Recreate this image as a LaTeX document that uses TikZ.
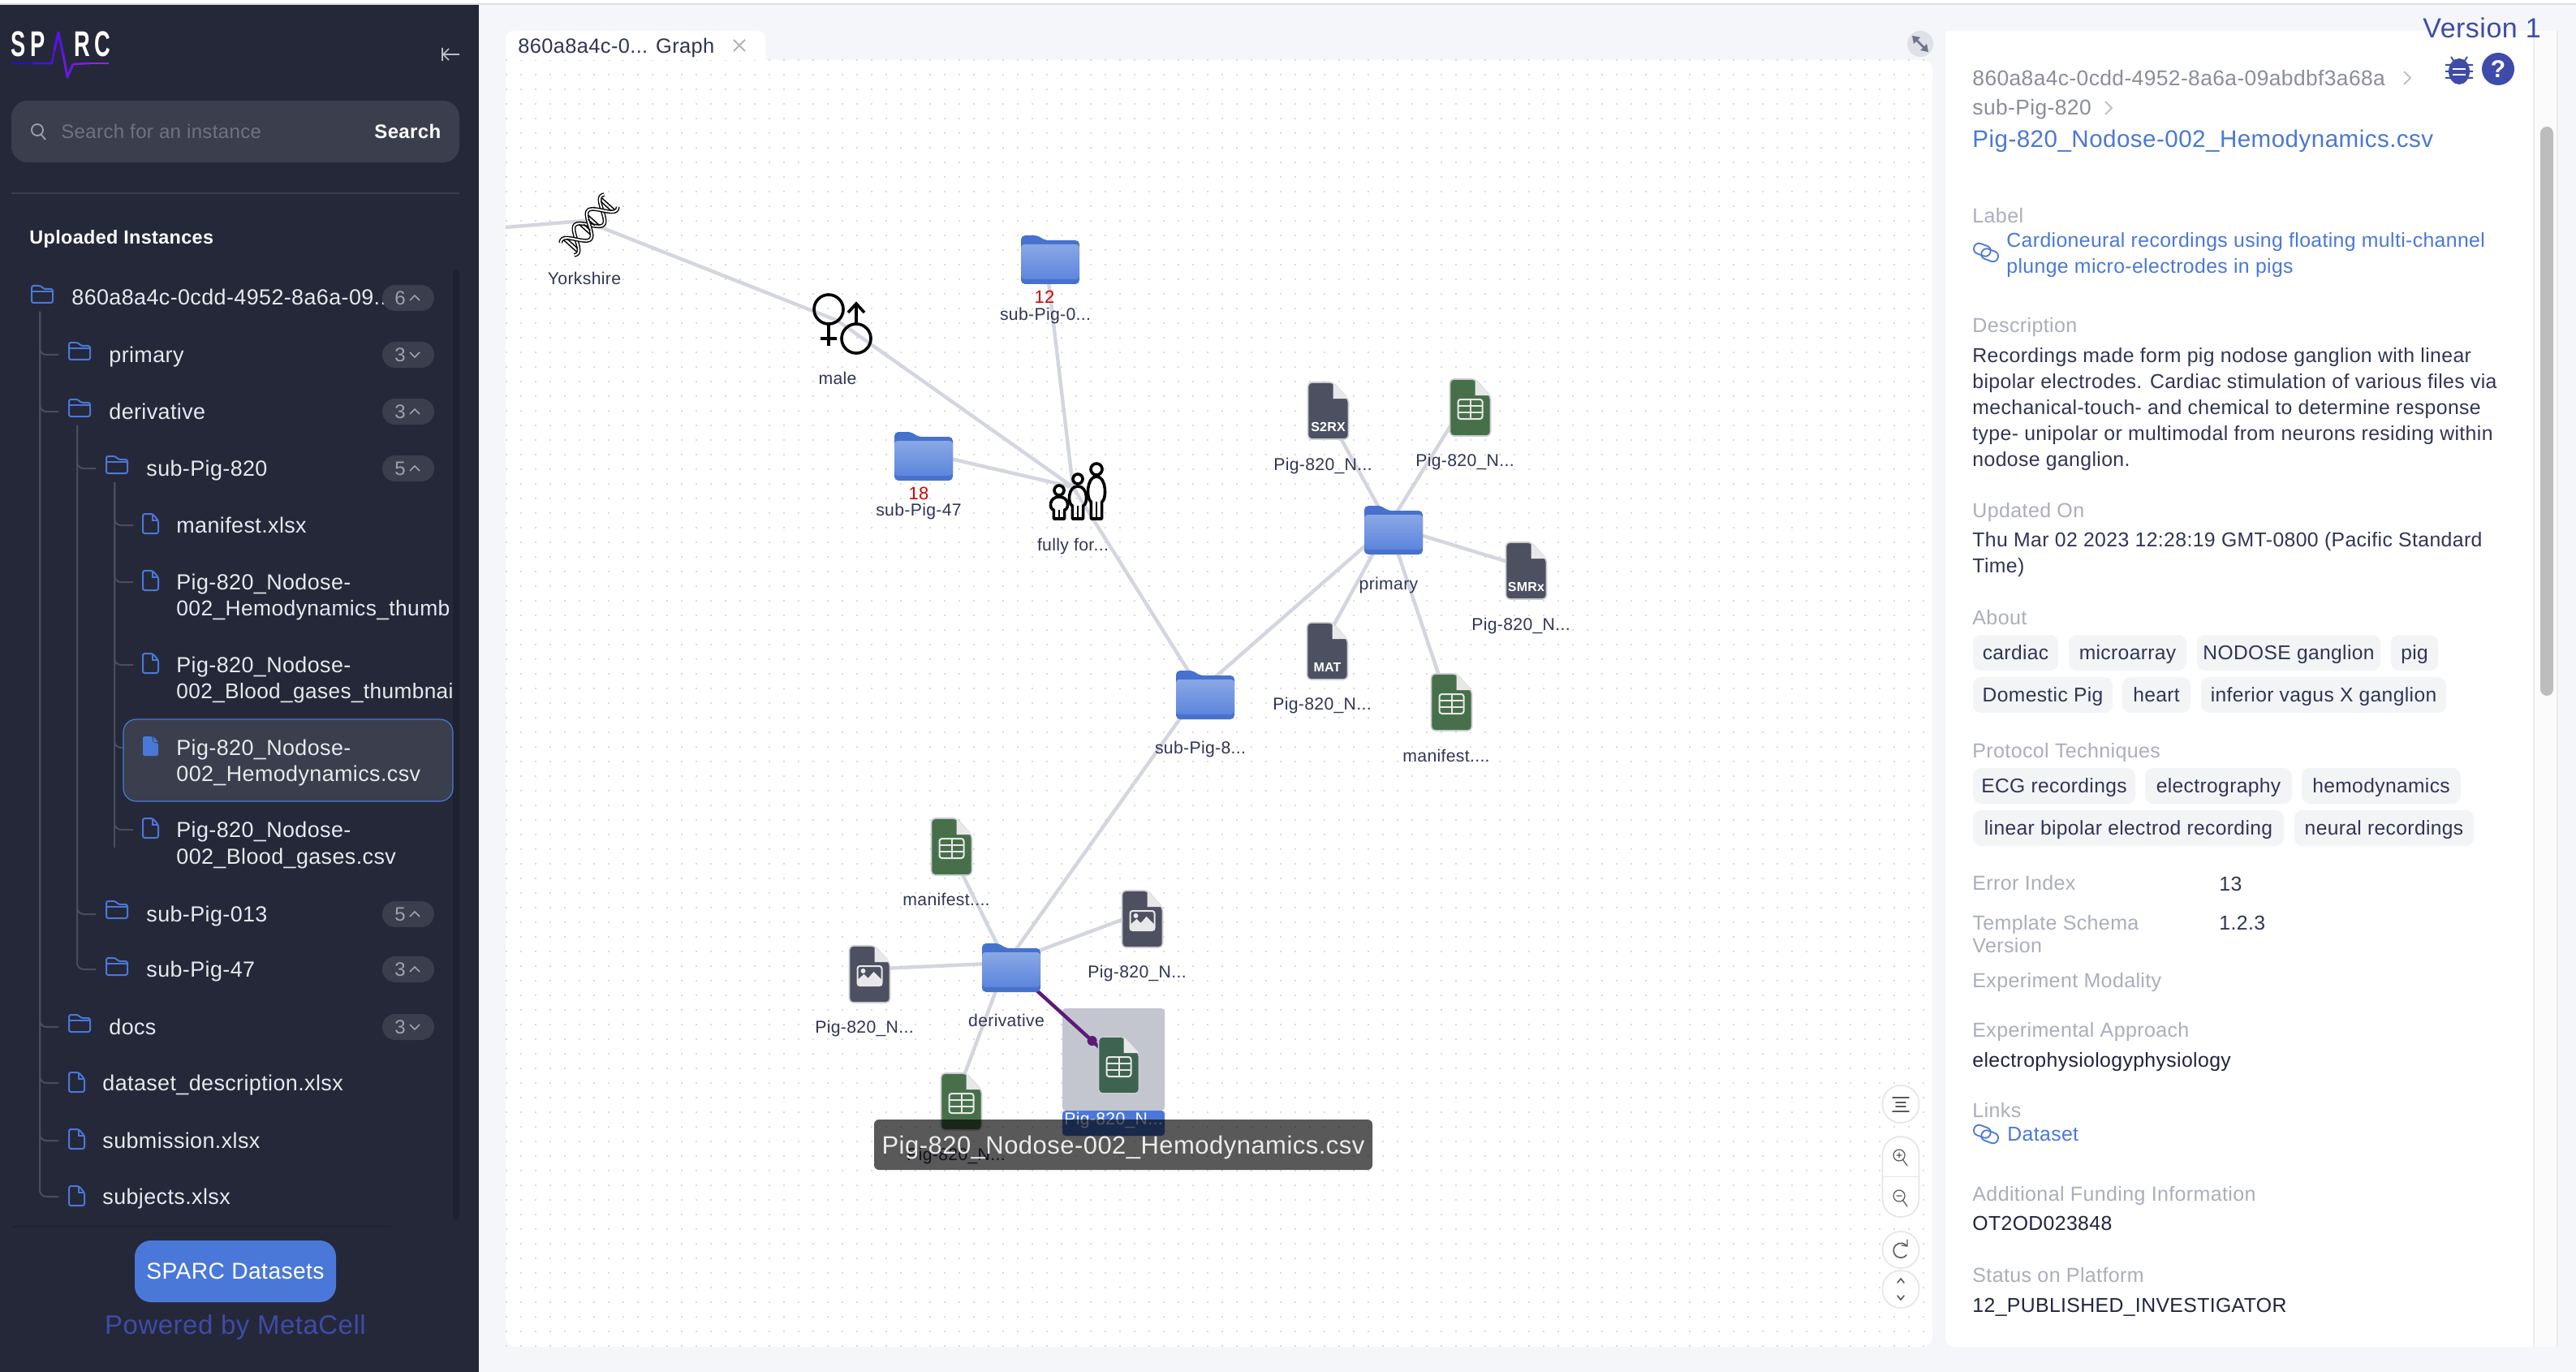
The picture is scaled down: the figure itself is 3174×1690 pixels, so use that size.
\documentclass[tikz,border=0pt]{standalone}
\usepackage{fontspec}
\usepackage{graphicx}
\setmainfont{Liberation Sans}[LetterSpace=1.5]
\usetikzlibrary{calc}
\definecolor{side}{HTML}{252839}
\definecolor{sidebox}{HTML}{3B3E4D}
\definecolor{sidedark}{HTML}{1E2130}
\definecolor{treeln}{HTML}{4A4D5C}
\definecolor{sidetxt}{HTML}{E8E9EC}
\definecolor{sidegray}{HTML}{9FA1AB}
\definecolor{holder}{HTML}{70737F}
\definecolor{bluea}{HTML}{4A78D8}
\definecolor{indigo}{HTML}{3F4BA8}
\definecolor{pagebg}{HTML}{F5F6FA}
\definecolor{ink}{HTML}{2F3655}
\definecolor{inkd}{HTML}{1F2540}
\definecolor{headgray}{HTML}{ABAEBC}
\definecolor{crumb}{HTML}{8A8D9A}
\definecolor{chipc}{HTML}{F3F4F6}
\definecolor{edgec}{HTML}{D3D6DF}
\definecolor{dotc}{HTML}{D9DBE1}
\definecolor{docdark}{HTML}{4D5060}
\definecolor{docgreen}{HTML}{47704A}
\definecolor{docsel}{HTML}{3E6350}
\definecolor{docedge}{HTML}{C9CBCF}
\definecolor{foldc}{HTML}{E8E8E8}
\definecolor{purp}{HTML}{5C1A78}
\definecolor{hilite}{HTML}{BFC2CC}
\definecolor{expbg}{HTML}{DFE1E8}
\definecolor{expfg}{HTML}{6F7488}
\newcommand\fz[1]{\fontsize{#1}{#1}\selectfont}
\tikzset{
  tx/.style={anchor=west,inner sep=0pt,font=\fz{#1},text height=0.72*#1 pt,text depth=0pt},
  cx/.style={anchor=center,inner sep=0pt,font=\fz{#1},text height=0.72*#1 pt,text depth=0pt},
  treetext/.style={tx=13.45,text=sidetxt},
  gnode/.style={inner sep=0pt,minimum size=0pt,outer sep=0pt},
  glabel/.style={cx=10.6,text=ink},
  edge/.style={draw=edgec,line width=2.2pt},
  treeline/.style={draw=treeln,line width=1pt,rounded corners=4pt},
  chip/.style={rectangle,rounded corners=5pt,fill=chipc,cx=12.3,text=ink,minimum height=22pt},
  head/.style={tx=12.5,text=headgray},
  body/.style={tx=12.4,text=ink},
  link/.style={tx=12.4,text=bluea},
  ctrl/.style={draw=#1,line width=.8pt,line cap=round},
  ctrlbtn/.style={rectangle,fill=white,draw=black!10,line width=.8pt,rounded corners=11pt,inner sep=0pt},
  flout/.style={draw=bluea,line width=1pt,rounded corners=1.2pt},
}
\newcommand\tfolder[2]{%
  \draw[flout] (#1,#2+21) -- (#1,#2) -- (#1+11,#2) -- (#1+15,#2+4) -- (#1+26,#2+4) -- (#1+26,#2+21) -- cycle;
  \draw[draw=bluea,line width=1pt] (#1,#2+7) -- (#1+26,#2+7);
}
\newcommand\tfile[2]{%
  \draw[flout] (#1,#2+24) -- (#1,#2) -- (#1+12,#2) -- (#1+19,#2+8) -- (#1+19,#2+24) -- cycle;
  \draw[draw=bluea,line width=1pt] (#1+12,#2) -- (#1+12,#2+8) -- (#1+19,#2+8);
}
\newcommand\badge[4]{%
  \node[rectangle,fill=sidebox,rounded corners=8pt,minimum width=32pt,minimum height=16pt,inner sep=0pt] (#1) at (503,#2) {};
  \node[cx=12,text=sidegray] (#1n) at (493,#2) {#3};
  \draw[sidegray,line width=.8pt] (505,{#2+3*#4}) -- (511,{#2-3*#4}) -- (517,{#2+3*#4});
}
\newcommand\branch[4]{\coordinate (#1) at (#3,#4); \draw[treeline] (#2) |- (#1);}
\newcommand\docgrid{%
  \draw[foldc,line width=1pt,rounded corners=1.5pt] (-15,-10) rectangle (15,14);
  \draw[foldc,line width=1pt] (-15,-2) -- (15,-2) (-15,6) -- (15,6) (0,-10) -- (0,14);
}
\newcommand\docimg{%
  \draw[foldc,line width=1pt,rounded corners=1.5pt] (-15,-10) rectangle (15,14);
  \fill[foldc] (-15,14) -- (-15,7) -- (-7,0) -- (-2,5) -- (5,-3) -- (15,7) -- (15,14) -- cycle;
  \fill[foldc] (-8,-4) circle (1.5pt);
}
\newcommand\doctxt[1]{\node[cx=8,text=white,font=\fz{8}\bfseries] at (0,20) {#1};}
\newcommand\docicon[3]{%
  \begin{scope}[shift={($(#1)+(6.5,6)$)}]
    \path[fill=#2,draw=docedge,line width=.8pt,rounded corners=2.5pt] (-25,-35) -- (6,-35) -- (25,-14) -- (25,35) -- (-25,35) -- cycle;
    \fill[foldc] (6,-35) -- (6,-15) [rounded corners=.5pt] -- (25,-15) -- cycle;
    #3
  \end{scope}}
\newcommand\foldericon[1]{%
  \begin{scope}[shift={($(#1)+(6,6)$)}]
    \fill[fill=bluea!95!black,rounded corners=2.5pt] (-36,30) -- (-36,-30) -- (-15,-30) -- (-7,-24) -- (36,-24) -- (36,30) -- cycle;
    \shade[top color=bluea!65!white,bottom color=bluea!90!white,rounded corners=2pt] (-36,-19) rectangle (36,24);
  \end{scope}}
\newcommand\person[6]{% cx headY headR top bottom halfwidth
  \draw[black,line width=1.8pt] (#1,#2) circle ({#3*0.5pt});
  \draw[black,line width=1.8pt,line join=round] (#1-#6*.6,#5) -- (#1-#6*.6,{#4+(#5-#4)*.6}) .. controls (#1-#6*1.15,{#4+(#5-#4)*.55}) and (#1-#6*1.15,#4) .. (#1,#4) .. controls (#1+#6*1.15,#4) and (#1+#6*1.15,{#4+(#5-#4)*.55}) .. (#1+#6*.6,{#4+(#5-#4)*.6}) -- (#1+#6*.6,#5) -- cycle;
  \draw[black,line width=1.2pt] (#1,{#4+(#5-#4)*.6}) -- (#1,#5);
}
\newcommand\linkicon[2]{%
  \begin{scope}[shift={(#1,#2)},rotate=-20]
    \draw[bluea,line width=.9pt,rounded corners=3pt] (-16,-8) rectangle (5,5);
    \draw[bluea,line width=.9pt,rounded corners=3pt] (-5,-5) rectangle (16,8);
  \end{scope}}
\begin{document}
\begin{tikzpicture}[x=.5pt,y=-.5pt]
\useasboundingbox (0,0) rectangle (3174,1690);
\fill[white] (0,0) rectangle (3174,5);
\fill[black!12] (0,4) rectangle (3174,6);
\fill[pagebg] (590,6) rectangle (3174,1690);
\fill[side] (0,6) rectangle (590,1690);
%%% sidebar
\node[anchor=base west,inner sep=0pt,text=white,font=\fz{22}\bfseries] (logoa) at (13,70) {\scalebox{.62}[1]{S\kern.22em P}};
\node[anchor=base west,inner sep=0pt,text=white,font=\fz{22}\bfseries] (logob) at (91,70) {\scalebox{.62}[1]{R\kern.2em C}};
\draw[line width=1.3pt,color={rgb,255:red,40;green,16;blue,200}] (14,78) -- (40,78);
\draw[line width=1.3pt,color={rgb,255:red,70;green,20;blue,215},line join=round] (40,78) -- (64,78) -- (67,62);
\draw[line width=1.6pt,color={rgb,255:red,85;green,22;blue,220},line join=round] (67,62) -- (72,40) -- (78,68);
\draw[line width=1.5pt,color={rgb,255:red,105;green,26;blue,220},line join=round] (78,68) -- (83,95) -- (90,79);
\draw[line width=1.3pt,color={rgb,255:red,125;green,30;blue,220}] (90,79) -- (110,78);
\draw[line width=1.3pt,color={rgb,255:red,150;green,34;blue,220}] (110,78) -- (134,78);
\draw[sidegray!70!white,line width=.8pt] (545,59) -- (545,75) (566,67) -- (546,67) (553,60) -- (546,67) -- (553,74);
\node[rectangle,fill=sidebox,rounded corners=10pt,minimum width=276pt,minimum height=38pt,inner sep=0pt] (searchbox) at (290,162) {};
\draw[sidegray,line width=.9pt] (46,160) circle (3.5pt) (51,166) -- (56,172);
\node[tx=12,text=holder] (ph) at (75,162) {Search for an instance};
\node[tx=12,text=white,font=\fz{12}\bfseries] (searchbtn) at (461,162) {Search};
\draw[sidebox,line width=.8pt] (14,238) -- (566,238);
\node[tx=11.7,text=white,font=\fz{11.7}\bfseries] (upl) at (36,292) {Uploaded Instances};
\fill[sidedark,rounded corners=2pt] (558,332) rectangle (566,1503);
\draw[sidedark,line width=.8pt] (14,1511) -- (482,1511);
% tree lines
\coordinate (trunkA) at (49,384);
\coordinate (trunkB) at (95,524);
\coordinate (trunkC) at (141,594);
\coordinate (trunkCend) at (141,1044);
\branch{ba1}{trunkA}{72}{437}
\branch{ba2}{trunkA}{72}{507}
\branch{ba3}{trunkA}{72}{1265}
\branch{ba4}{trunkA}{72}{1334}
\branch{ba5}{trunkA}{72}{1405}
\branch{ba6}{trunkA}{72}{1474}
\branch{bb1}{trunkB}{118}{577}
\branch{bb2}{trunkB}{118}{1126}
\branch{bb3}{trunkB}{118}{1194}
\branch{bc1}{trunkC}{164}{647}
\branch{bc2}{trunkC}{164}{717}
\branch{bc3}{trunkC}{164}{819}
\branch{bc4}{trunkC}{164}{921}
\branch{bc5}{trunkC}{164}{1022}
\draw[treeline] (trunkC) -- (trunkCend);
\node[rectangle,fill=sidebox,draw=bluea,line width=.6pt,rounded corners=8pt,minimum width=203pt,minimum height=50.5pt,inner sep=0pt] (selbox) at (355,936.5) {};
\tfolder{39}{352}
\tfolder{85}{422} \tfolder{85}{492}
\tfolder{131}{562} \tfolder{131}{1110} \tfolder{131}{1180}
\tfolder{85}{1250}
\tfile{176}{633} \tfile{176}{703} \tfile{176}{805} \tfile{176}{1008}
\tfile{85}{1321} \tfile{85}{1391} \tfile{85}{1461}
\fill[bluea,rounded corners=1.2pt] (176,931) -- (176,907) -- (188,907) -- (188,915) -- (195,915) -- (195,931) -- cycle;
\fill[bluea] (189,907) -- (195,914) -- (189,914) -- cycle;
\node[treetext] (t1) at (88,366) {860a8a4c-0cdd-4952-8a6a-09...};
\node[treetext] (t2) at (134,437) {primary};
\node[treetext] (t3) at (134,507) {derivative};
\node[treetext] (t4) at (180,577) {sub-Pig-820};
\node[treetext] (t5) at (217,647) {manifest.xlsx};
\node[treetext] (t6a) at (217,717) {Pig-820\_Nodose-};
\node[treetext,tx=13.2] (t6b) at (217,749) {002\_Hemodynamics\_thumb};
\node[treetext] (t7a) at (217,819) {Pig-820\_Nodose-};
\node[treetext,tx=13.1] (t7b) at (217,851) {002\_Blood\_gases\_thumbnai};
\node[treetext] (t8a) at (217,921) {Pig-820\_Nodose-};
\node[treetext] (t8b) at (217,953) {002\_Hemodynamics.csv};
\node[treetext] (t9a) at (217,1022) {Pig-820\_Nodose-};
\node[treetext] (t9b) at (217,1055) {002\_Blood\_gases.csv};
\node[treetext] (t10) at (180,1126) {sub-Pig-013};
\node[treetext] (t11) at (180,1194) {sub-Pig-47};
\node[treetext] (t12) at (134,1265) {docs};
\node[treetext] (t13) at (126,1334) {dataset\_description.xlsx};
\node[treetext] (t14) at (126,1405) {submission.xlsx};
\node[treetext] (t15) at (126,1474) {subjects.xlsx};
\badge{b1}{367}{6}{1}
\badge{b2}{437}{3}{-1}
\badge{b3}{507}{3}{1}
\badge{b4}{577}{5}{1}
\badge{b5}{1126}{5}{1}
\badge{b6}{1194}{3}{1}
\badge{b7}{1265}{3}{-1}
\node[rectangle,fill=bluea,rounded corners=10pt,minimum width=124pt,minimum height=38pt,inner sep=0pt,text=white,font=\fz{14.1}] (sparcbtn) at (290,1566) {SPARC Datasets};
\node[cx=16.5,text=indigo] (powered) at (290,1632) {Powered by MetaCell};
%%% graph panel
\fill[white,rounded corners=6pt] (623,74) rectangle (2381,1659);
\fill[white] (623,74) rectangle (900,100);
\fill[white,rounded corners=5pt] (623,38) -- (943,38) -- (943,90) -- (623,90) -- cycle;
\foreach \yy in {74,92,...,1658} {
  \draw[dotc,line width=1pt,dash pattern=on 1pt off 8pt] (623,\yy) -- (2378,\yy);
}
\fill[white,rounded corners=5pt] (623,38) -- (943,38) -- (943,74) -- (623,74) -- cycle;
\node[tx=12.7,text=ink] (tabtxt) at (638,56) {860a8a4c-0... Graph};
\draw[black!30,line width=.9pt] (904,49) -- (918,63) (918,49) -- (904,63);
\fill[expbg] (2366,54) circle (8pt);
\draw[expfg,line width=1.3pt] (2359,47) -- (2373,61);
\fill[expfg] (2356,44) -- (2366,46) -- (2358,54) -- cycle;
\fill[expfg] (2376,64) -- (2366,62) -- (2374,54) -- cycle;
% graph nodes
\coordinate (offleft) at (623,280);
\node[gnode] (york) at (720,272) {};
\node[gnode] (male) at (1032,395) {};
\node[gnode] (sub0) at (1288,314) {};
\node[gnode] (sub47) at (1132,556) {};
\node[gnode] (fam) at (1322,600) {};
\node[gnode] (sub8) at (1479,850) {};
\node[gnode] (primary) at (1711,647) {};
\node[gnode] (s2rx) at (1630,500) {};
\node[gnode] (xl1) at (1805,496) {};
\node[gnode] (smrx) at (1874,697) {};
\node[gnode] (mat) at (1629,796) {};
\node[gnode] (man1) at (1782,859) {};
\node[gnode] (deriv) at (1240,1186) {};
\node[gnode] (man2) at (1166,1037) {};
\node[gnode] (imgl) at (1065,1194) {};
\node[gnode] (imgr) at (1401,1126) {};
\node[gnode] (xl2) at (1178,1351) {};
\node[gnode] (seldoc) at (1372,1306) {};
\fill[hilite,opacity=.93,rounded corners=2pt] (1309,1242) rectangle (1435,1368);
\path[fill=bluea,rounded corners=2pt] (1309,1368) rectangle (1435,1399);
% edges
\draw[edge] (offleft) -- (york);
\draw[edge] (york) -- (male);
\draw[edge] (male) -- (fam);
\draw[edge] (sub0) -- (fam);
\draw[edge] (sub47) -- (fam);
\draw[edge] (fam) -- (sub8);
\draw[edge] (sub8) -- (primary);
\draw[edge] (primary) -- (s2rx);
\draw[edge] (primary) -- (xl1);
\draw[edge] (primary) -- (smrx);
\draw[edge] (primary) -- (mat);
\draw[edge] (primary) -- (man1);
\draw[edge] (sub8) -- (deriv);
\draw[edge] (deriv) -- (man2);
\draw[edge] (deriv) -- (imgl);
\draw[edge] (deriv) -- (imgr);
\draw[edge] (deriv) -- (xl2);
\draw[purp,line width=2.2pt] (deriv) -- (seldoc) node[pos=.8,circle,fill=purp,inner sep=0pt,minimum size=6pt] (seldot) {};
% icons
\foldericon{sub0} \foldericon{sub47} \foldericon{sub8} \foldericon{primary} \foldericon{deriv}
\docicon{s2rx}{docdark}{\doctxt{S2RX}}
\docicon{xl1}{docgreen}{\docgrid}
\docicon{smrx}{docdark}{\doctxt{SMRx}}
\docicon{mat}{docdark}{\doctxt{MAT}}
\docicon{man1}{docgreen}{\docgrid}
\docicon{man2}{docgreen}{\docgrid}
\docicon{imgl}{docdark}{\docimg}
\docicon{imgr}{docdark}{\docimg}
\docicon{xl2}{docgreen}{\docgrid}
\docicon{seldoc}{docsel}{\docgrid}
\draw[black,line width=1.8pt] (1021,381) circle (9pt) (1021,399) -- (1021,426) (1011,417) -- (1031,417);
\draw[black,line width=1.8pt] (1055,417) circle (9pt) (1055,399) -- (1055,376) (1045,385) -- (1055,374) -- (1065,385);
\person{1351}{578}{7}{587}{639}{11}
\person{1328}{590}{6}{599}{639}{11}
\person{1305}{604}{6}{612}{639}{11}
\begin{scope}[shift={(726,277)},rotate=48]
  \draw[black,line width=2.4pt,domain=-40:40,samples=50] plot (\x,{13*sin(\x*7.5)});
  \draw[white,line width=1pt,domain=-40:40,samples=50] plot (\x,{13*sin(\x*7.5)});
  \draw[black,line width=2.4pt,domain=-40:40,samples=50] plot (\x,{-13*sin(\x*7.5)});
  \draw[white,line width=1pt,domain=-40:40,samples=50] plot (\x,{-13*sin(\x*7.5)});
  \foreach \q in {-35,-31,-8,-4,0,4,8,31,35} {
    \draw[black,line width=.7pt] (\q,{11*sin(\q*7.5)}) -- (\q,{-11*sin(\q*7.5)});
  }
\end{scope}
% graph labels
\node[glabel] (lyork) at (720,343) {Yorkshire};
\node[glabel] (lmale) at (1032,466) {male};
\node[cx=11,text=red!85!black] (n12) at (1287,366) {12};
\node[glabel] (lsub0) at (1288,387) {sub-Pig-0...};
\node[cx=11,text=red!85!black] (n18) at (1132,608) {18};
\node[glabel] (lsub47) at (1132,628) {sub-Pig-47};
\node[glabel] (lfam) at (1322,671) {fully for...};
\node[glabel] (lsub8) at (1479,921) {sub-Pig-8...};
\node[glabel] (lprim) at (1711,719) {primary};
\node[glabel] (ls2) at (1630,572) {Pig-820\_N...};
\node[glabel] (lxl1) at (1805,567) {Pig-820\_N...};
\node[glabel] (lsm) at (1874,769) {Pig-820\_N...};
\node[glabel] (lmat) at (1629,867) {Pig-820\_N...};
\node[glabel] (lman1) at (1782,931) {manifest....};
\node[glabel] (lder) at (1240,1257) {derivative};
\node[glabel] (lman2) at (1166,1108) {manifest....};
\node[glabel] (limgl) at (1065,1265) {Pig-820\_N...};
\node[glabel] (limgr) at (1401,1197) {Pig-820\_N...};
\node[glabel] (lxl2) at (1178,1422) {Pig-820\_N...};
\node[glabel,text=white] (lsel) at (1372,1378) {Pig-820\_N...};
% tooltip
\fill[black,opacity=.65,rounded corners=3pt] (1077,1379) rectangle (1691,1441);
\node[cx=15.5,text=white!92!black] (tooltip) at (1384,1410) {Pig-820\_Nodose-002\_Hemodynamics.csv};
% controls
\node[ctrlbtn,minimum width=22.5pt,minimum height=23pt] (c1) at (2342,1360) {};
\node[ctrlbtn,minimum width=22.5pt,minimum height=49.5pt] (c2) at (2342,1449.5) {};
\node[ctrlbtn,minimum width=22.5pt,minimum height=22.5pt] (c3) at (2342,1539.5) {};
\node[ctrlbtn,minimum width=22.5pt,minimum height=23pt] (c4) at (2342,1588) {};
\draw[black!10,line width=.8pt] (2320,1449.5) -- (2365,1449.5);
\draw[ctrl=black!65] (2332,1352) -- (2352,1352) (2336,1358) -- (2348,1358) (2336,1363) -- (2348,1363) (2332,1369) -- (2352,1369);
\draw[ctrl=black!65,line width=.6pt] (2340,1423) circle (3.5pt) (2345,1429) -- (2350,1436) (2337,1423) -- (2343,1423) (2340,1420) -- (2340,1426);
\draw[ctrl=black!65,line width=.6pt] (2340,1473) circle (3.5pt) (2345,1479) -- (2350,1486) (2337,1473) -- (2343,1473);
\draw[ctrl=black!65] (2349,1546) arc (-40:-320:4.5pt);
\draw[ctrl=black!65,line width=.6pt] (2350,1527) -- (2350,1535) -- (2343,1534);
\draw[ctrl=black!65] (2338,1580) -- (2342,1575) -- (2346,1580) (2338,1596) -- (2342,1601) -- (2346,1596);
%%% right panel
\fill[white,rounded corners=5pt] (2397,38) rectangle (3122,1659);
\fill[white] (2397,38) rectangle (2420,80);
\fill[white] (3100,38) rectangle (3122,1659);
\fill[black!1.5] (3122,38) rectangle (3152,1659);
\draw[black!8,line width=.6pt] (3122,38) -- (3122,1659) (3151,38) -- (3151,1659);
\fill[black!26,rounded corners=4pt] (3130,156) rectangle (3146,857);
\node[tx=17,text=indigo] (ver) at (2985,34) {Version 1};
\fill[indigo] (3030,88) ellipse (6.5pt and 8pt);
\draw[indigo,line width=1pt] (3013,80) -- (3047,80) (3013,88) -- (3047,88) (3013,96) -- (3047,96) (3020,70) -- (3024,76) (3040,70) -- (3036,76);
\draw[white,line width=.8pt] (3022,85) -- (3038,85) (3022,92) -- (3038,92);
\node[circle,fill=indigo,minimum size=20pt,inner sep=0pt,text=white,font=\fz{15}\bfseries] (help) at (3078,85) {?};
\node[tx=13.2,text=crumb] (cr1) at (2430,96) {860a8a4c-0cdd-4952-8a6a-09abdbf3a68a};
\draw[black!28,line width=.8pt] (2962,88) -- (2970,96) -- (2962,104);
\node[tx=13.2,text=crumb] (cr2) at (2430,132) {sub-Pig-820};
\draw[black!28,line width=.8pt] (2594,125) -- (2602,133) -- (2594,141);
\node[tx=14.8,text=bluea] (title) at (2430,171) {Pig-820\_Nodose-002\_Hemodynamics.csv};
\node[head] (hlabel) at (2430,266) {Label};
\linkicon{2447}{311}
\node[link] (l1) at (2472,296) {Cardioneural recordings using floating multi-channel};
\node[link] (l2) at (2472,328) {plunge micro-electrodes in pigs};
\node[head] (hdesc) at (2430,400) {Description};
\node[body] (d1) at (2430,438) {Recordings made form pig nodose ganglion with linear};
\node[body] (d2) at (2430,470) {bipolar electrodes. Cardiac stimulation of various files via};
\node[body] (d3) at (2430,502) {mechanical-touch- and chemical to determine response};
\node[body] (d4) at (2430,534) {type- unipolar or multimodal from neurons residing within};
\node[body] (d5) at (2430,566) {nodose ganglion.};
\node[head] (hupd) at (2430,628) {Updated On};
\node[body] (u1) at (2430,665) {Thu Mar 02 2023 12:28:19 GMT-0800 (Pacific Standard};
\node[body] (u2) at (2430,697) {Time)};
\node[head] (habout) at (2430,760) {About};
\node[chip,minimum width=52.5pt] (c-a1) at (2483.5,804) {cardiac};
\node[chip,minimum width=72.5pt] (c-a2) at (2621.5,804) {microarray};
\node[chip,minimum width=113pt] (c-a3) at (2820,804) {NODOSE ganglion};
\node[chip,minimum width=29pt] (c-a4) at (2975,804) {pig};
\node[chip,minimum width=86pt] (c-b1) at (2517,856) {Domestic Pig};
\node[chip,minimum width=42pt] (c-b2) at (2657,856) {heart};
\node[chip,minimum width=151pt] (c-b3) at (2863,856) {inferior vagus X ganglion};
\node[head] (hproto) at (2430,924) {Protocol Techniques};
\node[chip,minimum width=100pt] (c-c1) at (2531,968) {ECG recordings};
\node[chip,minimum width=90.5pt] (c-c2) at (2733.5,968) {electrography};
\node[chip,minimum width=98pt] (c-c3) at (2934,968) {hemodynamics};
\node[chip,minimum width=191.5pt] (c-d1) at (2622.5,1020) {linear bipolar electrod recording};
\node[chip,minimum width=110.5pt] (c-d2) at (2937.5,1020) {neural recordings};
\node[head] (herr) at (2430,1087) {Error Index};
\node[body] (verr) at (2734,1089) {13};
\node[head] (htpl) at (2430,1136) {Template Schema};
\node[head] (htpl2) at (2430,1164) {Version};
\node[body] (vtpl) at (2734,1137) {1.2.3};
\node[head] (hmod) at (2430,1207) {Experiment Modality};
\node[head] (happ) at (2430,1268) {Experimental Approach};
\node[body,text=inkd] (vapp) at (2430,1306) {electrophysiologyphysiology};
\node[head] (hlinks) at (2430,1367) {Links};
\linkicon{2447}{1397}
\node[link] (vds) at (2473,1397) {Dataset};
\node[head] (hfund) at (2430,1470) {Additional Funding Information};
\node[body,text=inkd] (vfund) at (2430,1507) {OT2OD023848};
\node[head] (hstat) at (2430,1570) {Status on Platform};
\node[body,text=inkd] (vstat) at (2430,1608) {12\_PUBLISHED\_INVESTIGATOR};
\end{tikzpicture}
\end{document}
